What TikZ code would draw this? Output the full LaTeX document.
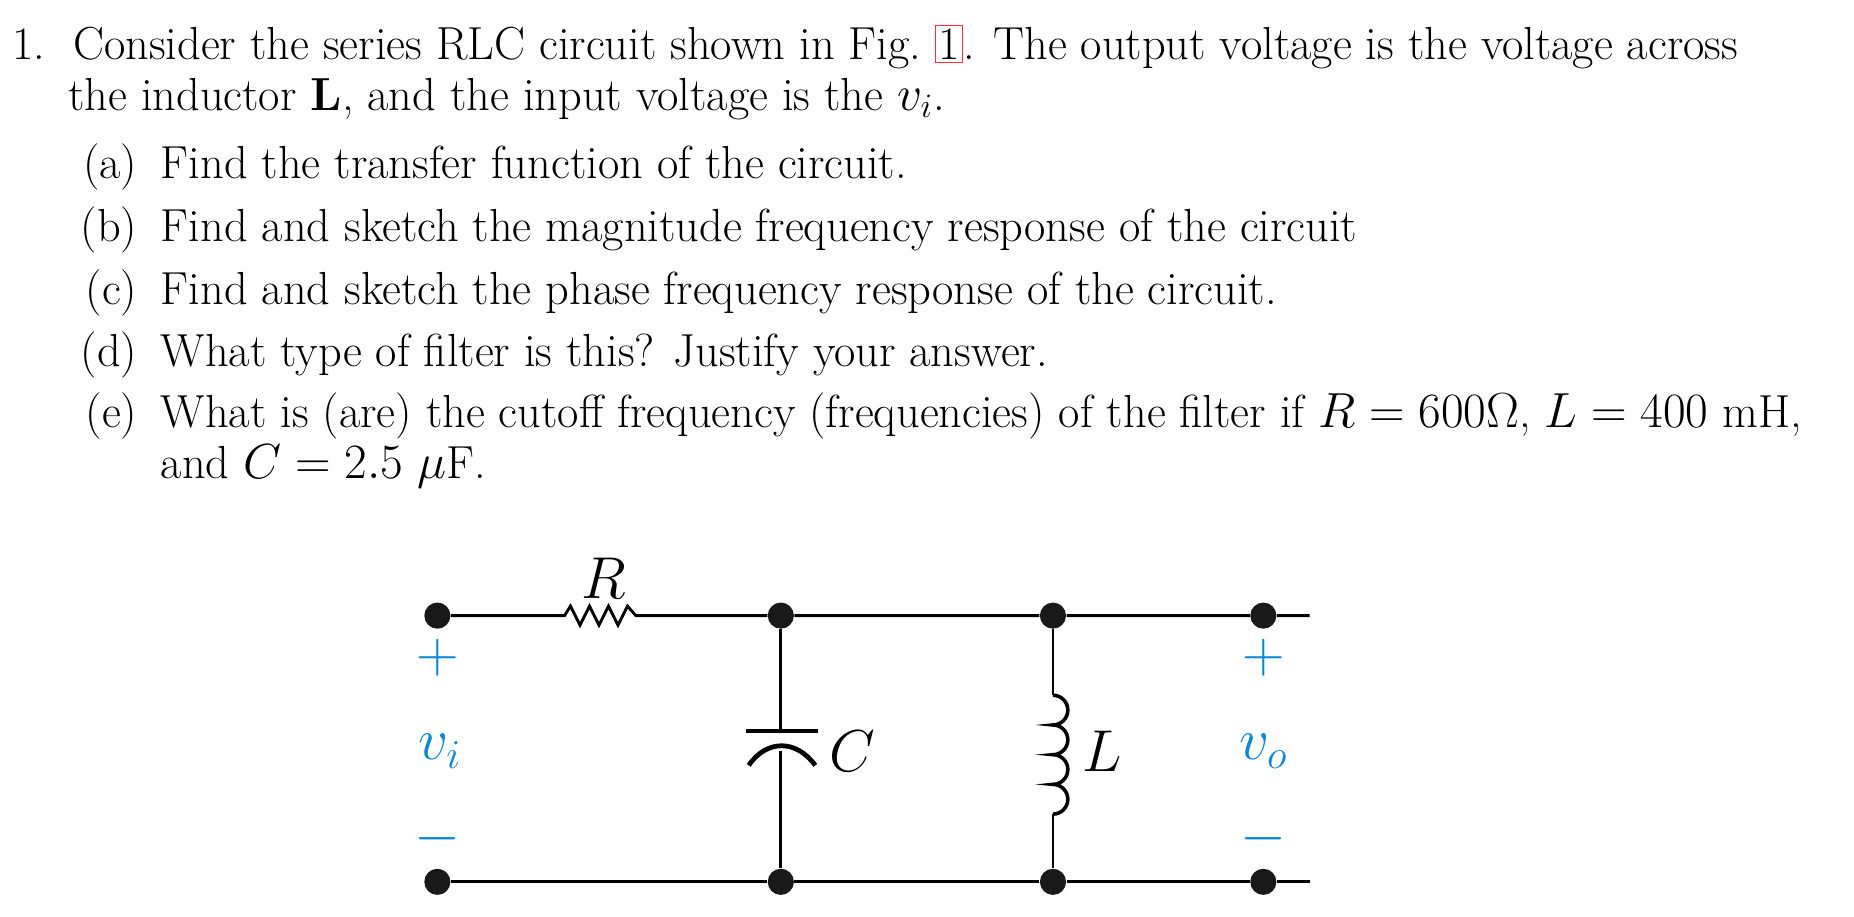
\documentclass[tikz,border=0pt]{standalone}
\usepackage{amsmath}
\begin{document}
\begin{tikzpicture}[x=0.5pt,y=-0.5pt,
  txt/.style={anchor=base west,inner sep=0pt,font=\fontsize{19.5}{22}\selectfont},
  itl/.style={anchor=base east,inner sep=0pt,font=\fontsize{19.5}{22}\selectfont},
  dot/.style={circle,fill=black!90,inner sep=0pt,minimum size=11pt},
  wire/.style={line width=1.2pt},
  blue/.style={text=cyan!70!blue,inner sep=0pt,font=\fontsize{24}{28}\selectfont},
  lbl/.style={inner sep=0pt,font=\fontsize{24}{28}\selectfont}]
\useasboundingbox (0,0) rectangle (1560,771);
\setlength{\fboxsep}{1pt}\setlength{\fboxrule}{0.4pt}
\node[txt] (l1) at (10,50) {1.\ \ Consider the series RLC circuit shown in Fig.\ \fcolorbox{red!80}{white}{1}. The output voltage is the voltage across};
\node[txt] (l2) at (57,93) {the inductor \textbf{L}, and the input voltage is the $v_i$.};
\node[itl] (la) at (116,150) {(a)};
\node[txt] (a) at (135,150) {Find the transfer function of the circuit.};
\node[itl] (lb) at (116,203) {(b)};
\node[txt] (b) at (135,203) {Find and sketch the magnitude frequency response of the circuit};
\node[itl] (lc) at (116,256) {(c)};
\node[txt] (c) at (135,256) {Find and sketch the phase frequency response of the circuit.};
\node[itl] (ld) at (116,308) {(d)};
\node[txt] (d) at (135,308) {What type of filter is this? Justify your answer.};
\node[itl] (le) at (116,360) {(e)};
\node[txt] (e) at (135,360) {What is (are) the cutoff frequency (frequencies) of the filter if $R=600\Omega$, $L=400$ mH,};
\node[txt] (e2) at (135,403) {and $C=2.5$ $\mu$F.};
% circuit
\node[dot] (i1) at (368,518) {};
\node[dot] (i2) at (368,742) {};
\node[dot] (c1) at (657,518) {};
\node[dot] (c2) at (657,742) {};
\node[dot] (n1) at (886,518) {};
\node[dot] (n2) at (886,742) {};
\node[dot] (o1) at (1063,518) {};
\node[dot] (o2) at (1063,742) {};
\coordinate (e1) at (1102,518);
\coordinate (e2c) at (1102,742);
\coordinate (r1) at (475,518);
\coordinate (r2) at (540,518);
\draw[wire] (i1) -- (r1) -- (480,510) -- (488,526) -- (496,510) -- (504,526) -- (512,510) -- (520,526) -- (528,510) -- (535,518) -- (r2) -- (c1) -- (n1) -- (o1) -- (e1);
\draw[wire] (i2) -- (c2) -- (n2) -- (o2) -- (e2c);
\coordinate (cp1) at (657,615);
\coordinate (cp2) at (657,632);
\draw[wire] (c1) -- (cp1);
\draw[line width=2pt] (628,615) -- (688,615);
\draw[line width=2pt] (630,644) .. controls (645,622) and (670,622) .. (686,644);
\draw[wire] (cp2) -- (c2);
\coordinate (lt) at (886,585);
\coordinate (lb) at (886,685);
\draw[wire] (n1) -- (lt);
\draw[line width=1.5pt] (lt) arc (90:-90:6.25pt) arc (90:-90:6.25pt) arc (90:-90:6.25pt) arc (90:-90:6.25pt);
\draw[wire] (lb) -- (n2);
\node[lbl] (R) at (508,487) {$R$};
\node[lbl] (C) at (717,632) {$C$};
\node[lbl] (L) at (927,632) {$L$};
\node[blue] (p1) at (368,553) {$+$};
\node[blue] (vi) at (370,632) {$v_i$};
\node[blue] (m1) at (368,706) {$-$};
\node[blue] (p2) at (1063,553) {$+$};
\node[blue] (vo) at (1063,632) {$v_o$};
\node[blue] (m2) at (1063,706) {$-$};
\end{tikzpicture}
\end{document}
